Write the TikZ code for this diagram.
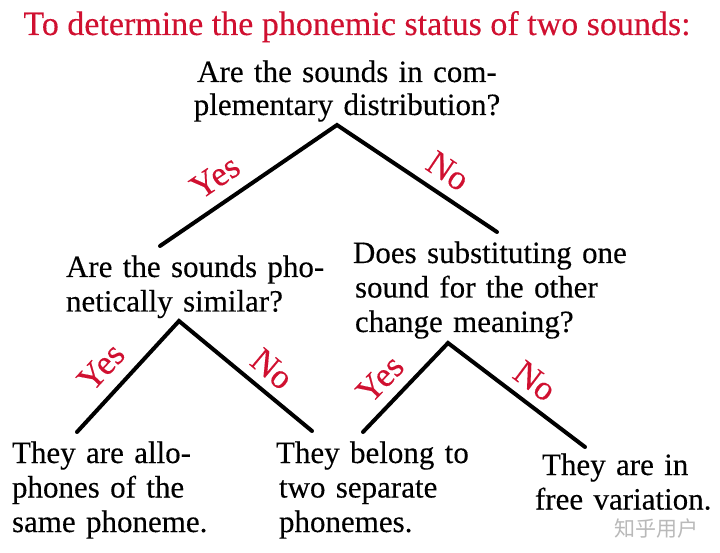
\documentclass[tikz,border=0pt]{standalone}
\usepackage{fontspec}
\setmainfont[FakeBold=0.25]{Liberation Serif}
\newfontfamily\cjk{Noto Sans CJK SC}
\definecolor{ttred}{RGB}{208,16,48}
\definecolor{wmgray}{RGB}{185,185,185}
\begin{document}
\begin{tikzpicture}[x=1pt,y=-1pt,
  txt/.style={inner sep=0pt,outer sep=0pt,font=\fontsize{31}{34.5}\selectfont,text width=360pt},
  lbl/.style={inner sep=0pt,text=ttred,font=\fontsize{35}{36}\selectfont},
  branch/.style={line width=4pt,line cap=round}]
\useasboundingbox[fill=white] (0,0) rectangle (720,553);
\node[inner sep=0pt,anchor=base,text=ttred,font=\fontsize{34}{36}\selectfont] (title) at (357,35) {To determine the phonemic status of two sounds:};
\node[txt,align=center,anchor=base,font=\fontsize{31}{33}\selectfont] (q1) at (347,82) {Are the sounds in com-\\plementary distribution?};
\node[txt,align=left,anchor=base west] (q2) at (66,277) {Are the sounds pho-\\netically similar?};
\node[txt,align=left,anchor=base west] (q3) at (353,263) {Does substituting one\\\hspace*{2pt}sound for the other\\\hspace*{2pt}change meaning?};
\node[txt,align=left,anchor=base west] (r1) at (12,463) {They are allo-\\phones of the\\same phoneme.};
\node[txt,align=left,anchor=base west] (r2) at (276,463) {They belong to\\\hspace*{3pt}two separate\\\hspace*{3pt}phonemes.};
\node[txt,align=left,anchor=base west] (r3) at (535,475) {\hspace*{7pt}They are in\\free variation.};
\node[inner sep=0pt,text=wmgray,font=\cjk\fontsize{21}{22}\selectfont] (wm) at (656,529) {知乎用户};
\coordinate (p1) at (337,125);
\coordinate (p1l) at (160,246);
\coordinate (p1r) at (497,232);
\coordinate (p2) at (179,321);
\coordinate (p2l) at (77,432);
\coordinate (p2r) at (312,431);
\coordinate (p3) at (448,343);
\coordinate (p3l) at (363,432);
\coordinate (p3r) at (585,447);
\draw[branch] (p1l) -- (p1) -- (p1r);
\draw[branch] (p2l) -- (p2) -- (p2r);
\draw[branch] (p3l) -- (p3) -- (p3r);
\node[lbl,rotate=34] (y1) at (215,177) {Yes};
\node[lbl,rotate=-34] (n1) at (448,171) {No};
\node[lbl,rotate=47] (y2) at (101,367) {Yes};
\node[lbl,rotate=-40] (n2) at (272,369) {No};
\node[lbl,rotate=46] (y3) at (380,379) {Yes};
\node[lbl,rotate=-37] (n3) at (535,381) {No};
\end{tikzpicture}
\end{document}
